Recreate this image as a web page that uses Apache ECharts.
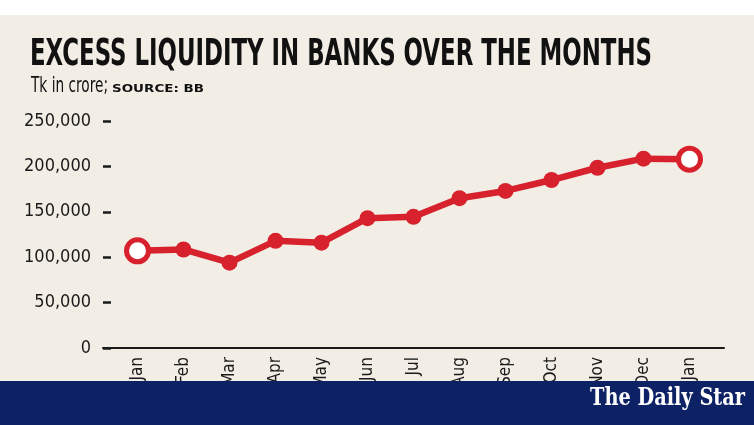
<!DOCTYPE html>
<html>
<head>
<meta charset="utf-8">
<script src="https://cdn.jsdelivr.net/npm/echarts@6/dist/echarts.min.js"></script>
<style>
  html, body { margin: 0; padding: 0; background: #fff; }
  #chart { width: 754px; height: 425px; }
</style>
</head>
<body>
<div id="chart"></div>
<script>
  // data
  var months = ['Jan', 'Feb', 'Mar', 'Apr', 'May', 'Jun', 'Jul', 'Aug', 'Sep', 'Oct', 'Nov', 'Dec', 'Jan'];
  var liquidity = [107000, 108500, 94000, 118000, 116000, 143000, 144500, 165000, 173000, 185000, 198500, 208500, 208000];
  var yTicks = [0, 50000, 100000, 150000, 200000, 250000];

  var red = '#d7222e';
  var narrow = '"DejaVu Sans Condensed", "Liberation Sans Narrow", sans-serif';

  // squeeze a text horizontally so it fits the width seen in the picture
  var ctx = document.createElement('canvas').getContext('2d');
  function fitText(text, font, width) {
    ctx.font = font;
    return width / ctx.measureText(text).width;
  }

  var seriesData = liquidity.map(function (v, i) {
    var p = { value: [i, v] };
    if (i === 0 || i === liquidity.length - 1) {
      p.symbolSize = 22;
      p.itemStyle = { color: '#ffffff', borderColor: red, borderWidth: 5 };
    }
    return p;
  });

  var xTicks = months.map(function (m, i) { return i; });

  var titleText = 'EXCESS LIQUIDITY IN BANKS OVER THE MONTHS';
  var subText = 'Tk in crore;';
  var srcText = 'SOURCE: BB';
  var brandText = 'The Daily Star';

  var myChart = echarts.init(document.getElementById('chart'));

  var option = {
    backgroundColor: '#f2eee6',
    animation: false,
    grid: { left: 103, right: 30, top: 121, bottom: 77 },
    xAxis: {
      type: 'value',
      min: -0.75,
      max: 12.75,
      splitLine: { show: false },
      axisTick: { show: false },
      axisLine: { show: true, onZero: false, lineStyle: { color: '#1a1a1a', width: 2 } },
      axisLabel: {
        customValues: xTicks,
        rotate: 90,
        margin: 9,
        fontFamily: narrow,
        fontSize: 17,
        color: '#1a1a1a',
        formatter: function (v) { return months[v]; }
      }
    },
    yAxis: {
      type: 'value',
      min: 0,
      max: yTicks[yTicks.length - 1],
      interval: 50000,
      splitLine: { show: false },
      axisLine: { show: false, onZero: false },
      axisTick: { show: true, inside: true, length: 8, lineStyle: { color: '#1a1a1a', width: 2.5 } },
      axisLabel: {
        margin: 12,
        fontFamily: narrow,
        fontSize: 18,
        color: '#1a1a1a',
        formatter: function (v) { return v === 0 ? '0' : v.toLocaleString('en-US'); }
      }
    },
    series: [{
      type: 'line',
      data: seriesData,
      symbol: 'circle',
      symbolSize: 16,
      lineStyle: { color: red, width: 6.5 },
      itemStyle: { color: red },
      z: 3
    }],
    graphic: [
      { type: 'rect', left: 0, top: 0, z: 100, shape: { width: 754, height: 15 }, style: { fill: '#ffffff' } },
      { type: 'rect', left: 0, top: 381, z: 100, shape: { width: 754, height: 44 }, style: { fill: '#0c2264' } },
      {
        type: 'text', x: 30, y: 36, z: 100,
        scaleX: fitText(titleText, 'bold 38px "DejaVu Sans Condensed"', 622),
        style: {
          text: titleText,
          fontFamily: narrow, fontWeight: 'bold', fontSize: 38, fill: '#111'
        }
      },
      {
        type: 'text', x: 31, y: 75, z: 100,
        scaleX: fitText(subText, '22px "DejaVu Sans Condensed"', 77),
        style: { text: subText, fontFamily: narrow, fontSize: 22, fill: '#111' }
      },
      {
        type: 'text', x: 112, y: 84, z: 100,
        scaleX: fitText(srcText, 'bold 11px "DejaVu Sans"', 92),
        style: { text: srcText, fontFamily: '"DejaVu Sans", sans-serif', fontWeight: 'bold', fontSize: 11, fill: '#111' }
      },
      {
        type: 'text', x: 590, y: 386, z: 100,
        scaleX: fitText(brandText, 'bold 25px "DejaVu Serif"', 155),
        style: {
          text: brandText,
          fontFamily: '"DejaVu Serif", serif', fontWeight: 'bold', fontSize: 25, fill: '#ffffff'
        }
      }
    ]
  };

  myChart.setOption(option);
</script>
</body>
</html>
